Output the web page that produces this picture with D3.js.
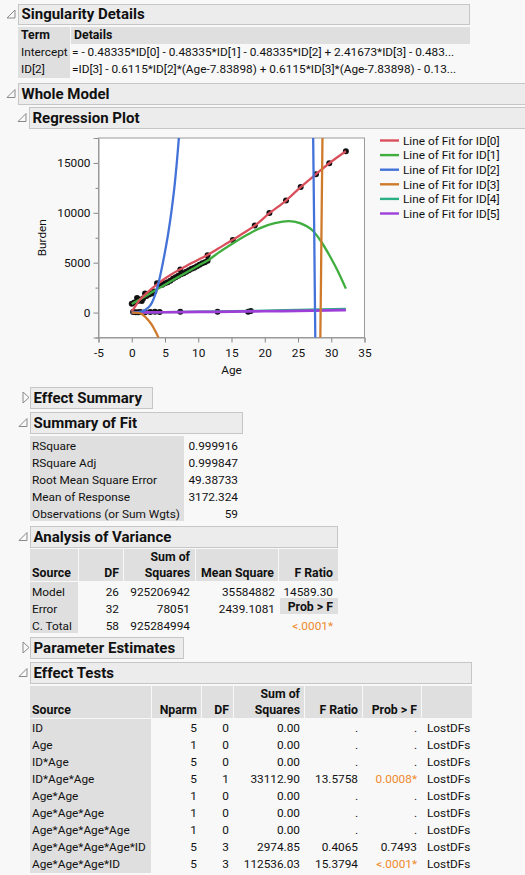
<!DOCTYPE html>
<html><head><meta charset="utf-8">
<script src="https://cdn.jsdelivr.net/npm/d3@7"></script>
<style>
html,body{margin:0;padding:0;background:#f8f8f8;}
svg{display:block;}
text{font-family:"Roboto","Noto Sans",sans-serif;fill:#111;}
</style></head><body>
<script>
// ---------- data ----------
const xTicks = [-5, 0, 5, 10, 15, 20, 25, 30, 35];
const yTicks = [0, 5000, 10000, 15000];
const yMinorTicks = [-2500, 2500, 7500, 12500, 17500];
const xDomain = [-5, 35];
const yDomain = [-2500, 17500];

const fitNames = ["Line of Fit for ID[0]", "Line of Fit for ID[1]", "Line of Fit for ID[2]",
                  "Line of Fit for ID[3]", "Line of Fit for ID[4]", "Line of Fit for ID[5]"];
const fitColors = ["#d9505c", "#3fae3f", "#4372d9", "#cf7a2b", "#2bb085", "#9d3fd8"];

const fitID0 = [[0,100],[0.5,600],[1,1100],[1.5,1480],[2,1800],[3,2400],[4,2930],[5,3420],[6,3850],[7.3,4330],[8,4600],[9,4960],[10,5300],[11.4,5780],[13,6420],[15.2,7300],[17,8050],[18.5,8720],[20.7,9960],[23.2,11230],[25.4,12580],[27.7,13870],[29.7,14970],[32.2,16170]];
const fitID1 = [[0,850],[2,1620],[4,2400],[6,3180],[8,3950],[10,4700],[11.5,5250],[13,5980],[15.3,6980],[17.5,7850],[19.3,8470],[21.5,8960],[23.6,9170],[25.3,8960],[27.3,8150],[28.5,7100],[29.8,5650],[31,4150],[32.2,2400]];
const fitID2 = [[0,0],[1,40],[2,250],[2.5,500],[3,950],[3.5,1750],[4,2900],[4.5,4400],[5,6100],[5.5,8000],[6,10300],[6.5,13100],[7,16800],[7.3,19500],[7.6,23000],null,[27.15,23000],[27.28,17500],[27.45,7500],[27.6,-2500],[27.65,-4000]];
const fitID3 = [[0,0],[1,-30],[1.5,-150],[2,-420],[2.5,-780],[3,-1200],[3.5,-1800],[4,-2500],[4.4,-3300],null,[28.3,-4000],[28.36,-2500],[28.52,7500],[28.68,17500],[28.74,21000]];
const fitID4 = [[0,0],[5,40],[10,80],[15,130],[20,190],[25,260],[32.2,370]];
const fitID5 = [[0,0],[5,30],[10,60],[15,90],[20,130],[25,170],[32.2,240]];
const fits = [fitID0, fitID1, fitID2, fitID3, fitID4, fitID5];

const pointsAge = [0,0.8,1.5,2,3.8,7.3,11.4,15.2,18.5,20.7,23.2,25.4,27.7,29.7,32.2,
  0.4,0.9,1.3,1.7,2.2,2.6,3.0,3.4,4.2,4.6,5.0,5.4,5.8,6.2,6.6,7.0,7.4,7.8,8.2,8.6,9.0,9.4,9.8,10.2,10.6,11.0,11.4,
  0.2,0.6,1.0,1.3,2.0,2.8,3.5,4.2,7.3,12.9,17.5,17.9];
const pointsBurden = [880,1450,1150,1900,2950,4310,5750,7280,8720,9990,11230,12600,13870,14970,16170,
  1000,1150,1280,1420,1650,1800,1920,2100,2750,2800,2950,3050,3200,3400,3550,3700,3850,3950,4100,4250,4400,4500,4650,4800,4950,5050,5200,
  60,30,40,50,40,60,70,60,80,90,80,150];

// tables
const singTerms = ["Intercept", "ID[2]"];
const singDetails = ["= - 0.48335*ID[0] - 0.48335*ID[1] - 0.48335*ID[2] + 2.41673*ID[3] - 0.483...",
                     "=ID[3] - 0.6115*ID[2]*(Age-7.83898) + 0.6115*ID[3]*(Age-7.83898) - 0.13..."];
const fitLabels = ["RSquare", "RSquare Adj", "Root Mean Square Error", "Mean of Response", "Observations (or Sum Wgts)"];
const fitValues = ["0.999916", "0.999847", "49.38733", "3172.324", "59"];
const anovaSource = ["Model", "Error", "C. Total"];
const anovaDF = ["26", "32", "58"];
const anovaSS = ["925206942", "78051", "925284994"];
const anovaMS = ["35584882", "2439.1081", ""];
const anovaF = ["14589.30", "", ""];
const anovaProb = "<.0001*";
const etSource = ["ID", "Age", "ID*Age", "ID*Age*Age", "Age*Age", "Age*Age*Age", "Age*Age*Age*Age", "Age*Age*Age*Age*ID", "Age*Age*Age*ID"];
const etNparm = ["5","1","5","5","1","1","1","5","5"];
const etDF = ["0","0","0","1","0","0","0","3","3"];
const etSS = ["0.00","0.00","0.00","33112.90","0.00","0.00","0.00","2974.85","112536.03"];
const etF = [".",".",".","13.5758",".",".",".","0.4065","15.3794"];
const etProb = [".",".",".","0.0008*",".",".",".","0.7493","<.0001*"];
const etSig = [false,false,false,true,false,false,false,false,true];
const etNote = "LostDFs";

// ---------- drawing ----------
const W = 525, H = 875;
const svg = d3.select("body").append("svg").attr("width", W).attr("height", H);
const FAMILY = "'Roboto','Noto Sans',sans-serif";

// size fonts so that sample strings match the reference widths
function sizeFor(sample, target, bold) {
  const t = svg.append("text").attr("x", 0).attr("y", -50).attr("font-size", 100)
    .attr("font-family", FAMILY).attr("font-weight", bold ? "bold" : "normal").text(sample);
  const w = t.node().getComputedTextLength();
  t.remove();
  return 100 * target / w;
}
const FS = sizeFor("Root Mean Square Error 925206942", 188, false);
const FSB = sizeFor("Mean Square", 73, true);
const FSH = sizeFor("Analysis of Variance", 138, true);

const HEAD_BG = "#ececec", HEAD_BORDER = "#c6c6c6", CELL_BG = "#dfdfdf", ORANGE = "#ee8a2c";

function openIcon(x, y) {
  svg.append("path").attr("d", `M${x+8},${y} L${x+8},${y+8} L${x},${y+8} Z`)
    .attr("fill", "none").attr("stroke", "#8a8a8a").attr("stroke-width", 1);
}
function closedIcon(x, y) {
  svg.append("path").attr("d", `M${x},${y} L${x+6},${y+5.5} L${x},${y+11} Z`)
    .attr("fill", "none").attr("stroke", "#8a8a8a").attr("stroke-width", 1);
}
function header(x0, x1, y0, y1, title, open) {
  svg.append("rect").attr("x", x0 + 0.5).attr("y", y0 + 0.5).attr("width", x1 - x0 - 1).attr("height", y1 - y0)
    .attr("fill", HEAD_BG).attr("stroke", HEAD_BORDER);
  svg.append("text").attr("x", x0 + 3.5).attr("y", y1 - 5).attr("font-size", FSH).attr("font-weight", "bold").text(title);
  if (open) openIcon(x0 - 11, (y0 + y1) / 2 - 4); else closedIcon(x0 - 7, (y0 + y1) / 2 - 5.5);
}
function cell(x0, x1, y0, y1) {
  svg.append("rect").attr("x", x0).attr("y", y0).attr("width", x1 - x0).attr("height", y1 - y0).attr("fill", CELL_BG);
}
function txt(x, y, s, opts = {}) {
  const t = svg.append("text").attr("x", x).attr("y", y).attr("font-size", opts.bold ? FSB : FS).text(s);
  if (opts.anchor) t.attr("text-anchor", opts.anchor);
  if (opts.bold) t.attr("font-weight", "bold");
  if (opts.color) t.style("fill", opts.color);
  return t;
}

// Singularity details
header(18, 470, 4, 24, "Singularity Details", true);
cell(18, 70, 27, 44); cell(71, 470, 27, 44);
txt(21, 39, "Term", {bold: true}); txt(74, 39, "Details", {bold: true});
cell(18, 70, 44, 78);
singTerms.forEach((t, i) => { txt(21, 56 + i * 16.5, t); txt(72, 56 + i * 16.5, singDetails[i]); });

// Whole model / Regression plot
header(18, 526, 83, 104, "Whole Model", true);
header(29, 526, 107, 128, "Regression Plot", true);

const pl = {x0: 98.5, x1: 364.5, y0: 138, y1: 337.5};
svg.append("rect").attr("x", pl.x0).attr("y", pl.y0).attr("width", pl.x1 - pl.x0).attr("height", pl.y1 - pl.y0).attr("fill", "#fff");
const x = d3.scaleLinear().domain(xDomain).range([pl.x0, pl.x1]);
const y = d3.scaleLinear().domain(yDomain).range([pl.y1, pl.y0]);

svg.append("defs").append("clipPath").attr("id", "clip").append("rect")
  .attr("x", pl.x0).attr("y", pl.y0).attr("width", pl.x1 - pl.x0).attr("height", pl.y1 - pl.y0);

const xAxis = svg.append("g").attr("transform", `translate(0,${pl.y1})`)
  .call(d3.axisBottom(x).tickValues(xTicks).tickSize(5).tickFormat(d => String(d)));
const yAxis = svg.append("g").attr("transform", `translate(${pl.x0},0)`)
  .call(d3.axisLeft(y).tickValues(yTicks).tickSize(5).tickFormat(d => String(d)));
svg.append("g").attr("transform", `translate(${pl.x0},0)`)
  .call(d3.axisLeft(y).tickValues(yMinorTicks).tickSize(3).tickFormat(""))
  .call(g => g.select(".domain").remove());
[xAxis, yAxis].forEach(g => {
  g.selectAll("text").attr("font-size", FS).attr("font-family", FAMILY).style("fill", "#111");
  g.select(".domain").attr("stroke", "#999");
});
svg.selectAll("g .tick line").attr("stroke", "#888");
xAxis.selectAll("text").attr("dy", "0.95em");
svg.append("rect").attr("x", pl.x0).attr("y", pl.y0).attr("width", pl.x1 - pl.x0).attr("height", pl.y1 - pl.y0)
  .attr("fill", "none").attr("stroke", "#9a9a9a");

txt((pl.x0 + pl.x1) / 2, 374, "Age", {anchor: "middle"});
svg.append("text").attr("transform", `translate(46,${(pl.y0 + pl.y1) / 2}) rotate(-90)`)
  .attr("text-anchor", "middle").attr("font-size", FS).text("Burden");

const plotG = svg.append("g").attr("clip-path", "url(#clip)");
const line = d3.line().defined(d => d !== null).x(d => x(d[0])).y(d => y(d[1])).curve(d3.curveMonotoneX);
const drawOrder = [4, 5, 1, 0, 2, 3];
plotG.selectAll("circle").data(pointsAge.map((a, i) => [a, pointsBurden[i]])).enter().append("circle")
  .attr("cx", d => x(d[0])).attr("cy", d => y(d[1])).attr("r", 3).attr("fill", "#111");
drawOrder.forEach(i => {
  plotG.append("path").datum(fits[i]).attr("d", line).attr("fill", "none")
    .attr("stroke", fitColors[i]).attr("stroke-width", i === 5 ? 2.7 : 2.3);
});

// legend
fitNames.forEach((n, i) => {
  const ly = 140.5 + i * 14.6;
  svg.append("line").attr("x1", 380).attr("x2", 399).attr("y1", ly).attr("y2", ly).attr("stroke", fitColors[i]).attr("stroke-width", 2.4);
  txt(403, ly + 4.3, n);
});

// Effect summary, Summary of Fit
header(30, 153, 387, 408, "Effect Summary", false);
header(30, 243, 412, 433, "Summary of Fit", true);
cell(30, 184, 436, 521);
fitLabels.forEach((l, i) => {
  txt(32, 449.5 + i * 17, l);
  txt(238, 449.5 + i * 17, fitValues[i], {anchor: "end"});
});

// Analysis of variance
header(30, 338, 526, 547, "Analysis of Variance", true);
const aCols = [[30, 78], [79, 123], [124, 195], [196, 278], [279, 338]];
aCols.forEach(c => cell(c[0], c[1], 549, 581));
txt(32, 577, "Source", {bold: true});
txt(119, 577, "DF", {bold: true, anchor: "end"});
txt(190, 561, "Sum of", {bold: true, anchor: "end"});
txt(190, 577, "Squares", {bold: true, anchor: "end"});
txt(274, 577, "Mean Square", {bold: true, anchor: "end"});
txt(333, 577, "F Ratio", {bold: true, anchor: "end"});
cell(30, 78, 582, 633);
anovaSource.forEach((s, i) => {
  const by = 595.5 + i * 17;
  txt(32, by, s);
  txt(119, by, anovaDF[i], {anchor: "end"});
  txt(190, by, anovaSS[i], {anchor: "end"});
  if (anovaMS[i]) txt(275, by, anovaMS[i], {anchor: "end"});
  if (anovaF[i]) txt(333, by, anovaF[i], {anchor: "end"});
});
cell(280, 338, 598, 614);
txt(333, 611, "Prob > F", {bold: true, anchor: "end"});
txt(333, 629.5, anovaProb, {anchor: "end", color: ORANGE});

// Parameter estimates
header(30, 184, 637, 658, "Parameter Estimates", false);

// Effect tests
header(30, 472, 662, 683, "Effect Tests", true);
const eCols = [[30, 151], [152, 201], [202, 233], [234, 304], [305, 362], [363, 421], [422, 472]];
eCols.forEach(c => cell(c[0], c[1], 686, 718));
txt(32, 714, "Source", {bold: true});
txt(197, 714, "Nparm", {bold: true, anchor: "end"});
txt(229, 714, "DF", {bold: true, anchor: "end"});
txt(300, 698, "Sum of", {bold: true, anchor: "end"});
txt(300, 714, "Squares", {bold: true, anchor: "end"});
txt(358, 714, "F Ratio", {bold: true, anchor: "end"});
txt(417, 714, "Prob > F", {bold: true, anchor: "end"});
cell(30, 151, 719, 873);
etSource.forEach((s, i) => {
  const by = 731.5 + i * 17.1;
  txt(32, by, s);
  txt(197, by, etNparm[i], {anchor: "end"});
  txt(229, by, etDF[i], {anchor: "end"});
  txt(300, by, etSS[i], {anchor: "end"});
  txt(358, by, etF[i], {anchor: "end"});
  txt(417, by, etProb[i], {anchor: "end", color: etSig[i] ? ORANGE : null});
  txt(427, by, etNote);
});
</script>
</body></html>
